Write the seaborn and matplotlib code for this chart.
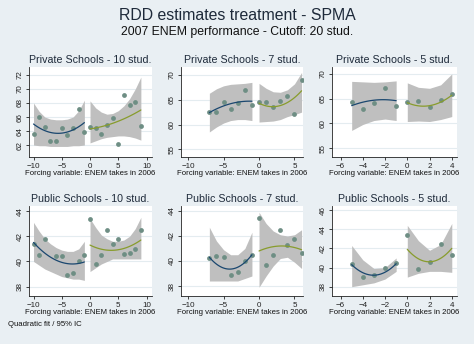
import matplotlib
matplotlib.use("Agg")
import matplotlib.pyplot as plt
import seaborn as sns

sns.set_theme(style="white")
plt.rcParams["font.family"] = ["Liberation Sans", "DejaVu Sans"]

# ---------------- data ----------------
# Private Schools - 10 stud.
p10_l_x = [-10, -9, -8, -7, -6, -5, -4, -3, -2, -1]
p10_l_y = [63.6, 66.0, 64.6, 62.6, 62.6, 64.4, 63.4, 64.4, 67.1, 63.9]
p10_l_fit_x = [-10, -5, -1]
p10_l_fit_y = [65.0, 63.7, 65.2]
p10_l_lo = [62.0, 61.9, 61.9, 61.8, 61.8, 61.8, 61.8, 61.9, 61.9, 62.0]
p10_l_hi = [68.0, 66.8, 66.0, 65.7, 65.6, 65.6, 65.7, 66.0, 66.9, 68.4]
p10_r_x = [0, 1, 2, 3, 4, 5, 6, 7, 8, 9]
p10_r_y = [64.6, 64.4, 63.6, 64.9, 65.8, 62.2, 69.2, 67.7, 68.2, 64.7]
p10_r_fit_x = [0, 4, 9]
p10_r_fit_y = [64.3, 65.1, 67.0]
p10_r_lo = [62.3, 62.6, 62.9, 63.1, 63.2, 63.3, 63.3, 63.2, 63.0, 62.7]
p10_r_hi = [68.3, 67.3, 66.7, 66.4, 66.5, 66.9, 67.6, 68.6, 70.0, 71.7]

# Private Schools - 7 stud.
p7_l_x = [-7, -6, -5, -4, -3, -2, -1]
p7_l_y = [62.5, 62.5, 64.5, 63.1, 64.4, 67.0, 63.9]
p7_l_fit_x = [-7, -4, -1]
p7_l_fit_y = [62.4, 64.2, 64.7]
p7_l_lo = [58.5, 59.5, 60.3, 60.8, 61.0, 61.0, 60.8]
p7_l_hi = [66.3, 67.2, 67.8, 68.1, 68.2, 68.3, 68.5]
p7_r_x = [0, 1, 2, 3, 4, 5, 6]
p7_r_y = [64.5, 64.5, 63.5, 64.8, 65.8, 62.2, 68.9]
p7_r_fit_x = [0, 2, 6]
p7_r_fit_y = [64.3, 63.6, 66.8]
p7_r_lo = [60.5, 60.6, 60.7, 61.0, 61.6, 62.0, 62.5]
p7_r_hi = [68.3, 67.3, 66.6, 66.5, 67.0, 68.2, 70.5]

# Private Schools - 5 stud.
p5_l_x = [-5, -4, -3, -2, -1]
p5_l_y = [64.3, 63.0, 64.2, 67.1, 63.6]
p5_l_fit_x = [-5, -2, -1]
p5_l_fit_y = [63.6, 64.8, 64.6]
p5_l_lo = [58.6, 59.8, 60.6, 60.9, 60.6]
p5_l_hi = [68.5, 68.4, 68.3, 68.4, 68.6]
p5_r_x = [0, 1, 2, 3, 4]
p5_r_y = [64.4, 64.6, 63.4, 64.8, 65.9]
p5_r_fit_x = [0, 2, 4]
p5_r_fit_y = [64.2, 63.6, 65.7]
p5_r_lo = [60.4, 60.5, 60.4, 60.8, 61.4]
p5_r_hi = [68.2, 67.3, 67.1, 67.8, 70.0]

# Public Schools - 10 stud.
u10_l_x = [-10, -9, -8, -6, -5, -4, -3, -2, -1]
u10_l_y = [41.4, 40.5, 41.8, 40.4, 40.4, 38.9, 39.1, 40.0, 40.5]
u10_l_fit_x = [-10, -5, -3, -1]
u10_l_fit_y = [41.5, 40.0, 39.7, 40.0]
u10_l_band_x = [-10, -9, -8, -7, -6, -5, -4, -3, -2, -1]
u10_l_lo = [40.0, 39.7, 39.4, 39.2, 39.0, 38.8, 38.7, 38.6, 38.6, 38.5]
u10_l_hi = [43.1, 42.4, 41.8, 41.4, 41.1, 40.9, 40.8, 40.8, 41.0, 41.6]
u10_r_x = [0, 1, 2, 3, 4, 5, 6, 7, 8, 9]
u10_r_y = [43.4, 39.8, 40.5, 42.5, 41.4, 41.75, 40.6, 40.7, 41.0, 42.5]
u10_r_fit_x = [0, 4.5, 9]
u10_r_fit_y = [41.3, 40.9, 41.7]
u10_r_lo = [39.2, 39.5, 39.8, 40.0, 40.2, 40.2, 40.2, 40.2, 40.2, 40.2]
u10_r_hi = [43.4, 42.7, 42.1, 41.8, 41.6, 41.6, 41.7, 42.0, 42.6, 43.5]

# Public Schools - 7 stud.
u7_l_x = [-7, -6, -5, -4, -3, -2, -1]
u7_l_y = [40.2, 40.4, 40.35, 38.9, 39.1, 40.0, 40.5]
u7_l_fit_x = [-7, -3.5, -1]
u7_l_fit_y = [40.3, 39.4, 40.5]
u7_l_lo = [38.4, 38.4, 38.4, 38.4, 38.4, 38.6, 38.8]
u7_l_hi = [42.7, 41.6, 40.9, 40.5, 40.5, 41.0, 42.3]
u7_r_x = [0, 1, 2, 3, 4, 5, 6]
u7_r_y = [43.4, 39.7, 40.5, 42.5, 41.3, 41.8, 40.6]
u7_r_fit_x = [0, 3, 6]
u7_r_fit_y = [40.8, 41.2, 40.9]
u7_r_lo = [37.9, 38.8, 39.6, 40.2, 40.3, 39.9, 39.4]
u7_r_hi = [43.9, 43.0, 42.4, 42.1, 42.0, 42.1, 42.5]

# Public Schools - 5 stud.
u5_l_x = [-5, -4, -3, -2, -1]
u5_l_y = [40.4, 39.0, 39.2, 40.0, 40.5]
u5_l_fit_x = [-5, -3, -1]
u5_l_fit_y = [40.3, 39.2, 40.4]
u5_l_lo = [38.0, 38.2, 38.4, 38.8, 39.6]
u5_l_hi = [42.3, 40.8, 39.9, 40.0, 41.0]
u5_r_x = [0, 1, 2, 3, 4]
u5_r_y = [43.4, 39.8, 40.6, 42.5, 41.3]
u5_r_fit_x = [0, 2, 4]
u5_r_fit_y = [41.9, 40.6, 42.0]
u5_r_lo = [39.0, 39.4, 39.6, 39.6, 39.5]
u5_r_hi = [44.4, 42.8, 41.8, 42.4, 44.6]

panel_titles = ["Private Schools - 10 stud.", "Private Schools - 7 stud.",
                "Private Schools - 5 stud.", "Public Schools - 10 stud.",
                "Public Schools - 7 stud.", "Public Schools - 5 stud."]
x_label = "Forcing variable: ENEM takes in 2006"
main_title = "RDD estimates treatment - SPMA"
sub_title = "2007 ENEM performance - Cutoff: 20 stud."
note = "Quadratic fit / 95% IC"

xticks_10 = [-10, -5, 0, 5, 10]
xticks_7 = [-10, -5, 0, 5]
xticks_5 = [-6, -4, -2, 0, 2, 4]
yticks_priv10 = [62, 64, 66, 68, 70, 72]
yticks_priv = [55, 60, 65, 70]
yticks_pub = [38, 40, 42, 44]
yticks_pub5 = [38, 40, 42, 44, 46]

# ---------------- styling ----------------
BG = "#E9EFF3"
MARK = "#6e8e84"
LEFT_LINE = "#1a476f"
RIGHT_LINE = "#889c2c"
BAND = "#bfbfbf"
GRID = "#e4ecf0"
TXT = "#1e2a3a"

W, H = 474, 344
fig = plt.figure(figsize=(W / 100, H / 100), dpi=100, facecolor=BG)

cols = [(29, 152), (181, 303), (332, 457)]
rows = [(67, 157), (206, 296)]
xlims = [(-10.8, 10.97), (-11.0, 6.2), (-6.77, 4.47)]
ylims = [[(60.29, 73.14), (53.45, 71.6), (53.24, 71.4)],
         [(37.26, 44.4), (37.2, 44.4), (37.03, 46.42)]]
xticks = [xticks_10, xticks_7, xticks_5]
yticks = [[yticks_priv10, yticks_priv, yticks_priv],
          [yticks_pub, yticks_pub, yticks_pub5]]

panels = [
    [(p10_l_x, p10_l_y, p10_l_fit_x, p10_l_fit_y, p10_l_x, p10_l_lo, p10_l_hi),
     (p10_r_x, p10_r_y, p10_r_fit_x, p10_r_fit_y, p10_r_x, p10_r_lo, p10_r_hi)],
    [(p7_l_x, p7_l_y, p7_l_fit_x, p7_l_fit_y, p7_l_x, p7_l_lo, p7_l_hi),
     (p7_r_x, p7_r_y, p7_r_fit_x, p7_r_fit_y, p7_r_x, p7_r_lo, p7_r_hi)],
    [(p5_l_x, p5_l_y, p5_l_fit_x, p5_l_fit_y, p5_l_x, p5_l_lo, p5_l_hi),
     (p5_r_x, p5_r_y, p5_r_fit_x, p5_r_fit_y, p5_r_x, p5_r_lo, p5_r_hi)],
    [(u10_l_x, u10_l_y, u10_l_fit_x, u10_l_fit_y, u10_l_band_x, u10_l_lo, u10_l_hi),
     (u10_r_x, u10_r_y, u10_r_fit_x, u10_r_fit_y, u10_r_x, u10_r_lo, u10_r_hi)],
    [(u7_l_x, u7_l_y, u7_l_fit_x, u7_l_fit_y, u7_l_x, u7_l_lo, u7_l_hi),
     (u7_r_x, u7_r_y, u7_r_fit_x, u7_r_fit_y, u7_r_x, u7_r_lo, u7_r_hi)],
    [(u5_l_x, u5_l_y, u5_l_fit_x, u5_l_fit_y, u5_l_x, u5_l_lo, u5_l_hi),
     (u5_r_x, u5_r_y, u5_r_fit_x, u5_r_fit_y, u5_r_x, u5_r_lo, u5_r_hi)],
]

for i, sides in enumerate(panels):
    r, c = divmod(i, 3)
    x0, x1 = cols[c]
    y0, y1 = rows[r]
    ax = fig.add_axes([x0 / W, 1 - y1 / H, (x1 - x0) / W, (y1 - y0) / H])
    ax.set_facecolor("white")

    for side, (sx, sy, fx, fy, bx, lo, hi) in enumerate(sides):
        ax.fill_between(bx, lo, hi, color=BAND, lw=0, zorder=1)
        sns.scatterplot(x=sx, y=sy, ax=ax, color=MARK, s=12, linewidth=0,
                        zorder=3, legend=False)
        sns.regplot(x=fx, y=fy, ax=ax, order=2, ci=None, scatter=False,
                    color=LEFT_LINE if side == 0 else RIGHT_LINE,
                    line_kws=dict(lw=0.9, zorder=4))

    ax.set_xlim(*xlims[c])
    ax.set_ylim(*ylims[r][c])
    ax.set_xticks(xticks[c])
    ax.set_yticks(yticks[r][c])
    ax.yaxis.grid(True, color=GRID, lw=0.8, zorder=0)
    ax.set_axisbelow(True)
    for s in ("top", "right"):
        ax.spines[s].set_visible(False)
    for s in ("left", "bottom"):
        ax.spines[s].set_color("#222222")
        ax.spines[s].set_linewidth(0.6)
    ax.tick_params(axis="both", length=2.5, width=0.6, colors="#222222",
                   labelsize=5.8, pad=1.5, left=True, bottom=True)
    for lab in ax.get_yticklabels():
        lab.set_rotation(90)
        lab.set_va("center")
    ax.set_xlabel(x_label, fontsize=5.6, color="#111111", labelpad=0.3)
    ax.set_ylabel("")
    ax.set_title(panel_titles[i], fontsize=7.7, color=TXT, pad=3)

fig.text(0.5, 1 - 15 / H, main_title, ha="center", va="center",
         fontsize=11.4, color=TXT)
fig.text(0.5, 1 - 32 / H, sub_title, ha="center", va="center",
         fontsize=8.8, color="#111111")
fig.text(8 / W, 1 - 325 / H, note, ha="left", va="center",
         fontsize=5.6, color="#111111")

fig.savefig("out.png", dpi=100, facecolor=BG)
